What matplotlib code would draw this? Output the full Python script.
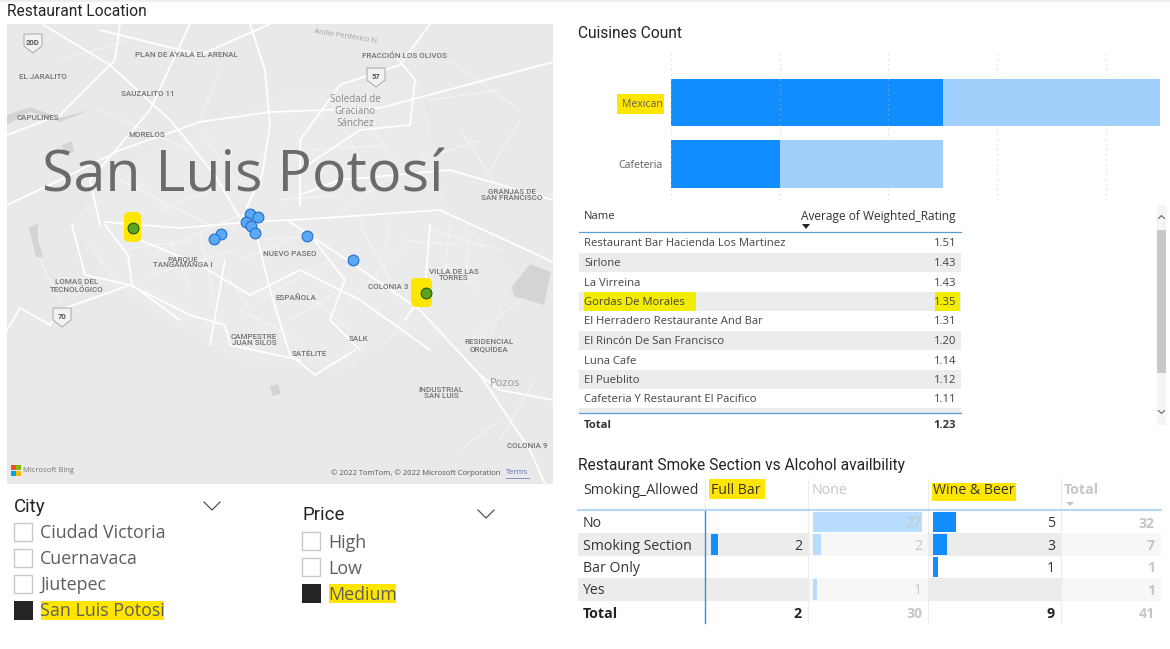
import matplotlib
matplotlib.use('Agg')
import matplotlib.pyplot as plt
from matplotlib.patches import Rectangle, Polygon, FancyBboxPatch

W, H = 1170, 649

# restaurant markers in picture pixels
blue_x = [250, 257.5, 246, 250.7, 254.6, 220.7, 214, 307, 352.5]
blue_y = [214, 217, 222, 226, 233, 234, 239, 236, 260]
green_x = [132.5, 426]
green_y = [228, 293]

cuisines = ['Mexican', 'Cafeteria']
cuisine_selected = [5, 2]
cuisine_other = [4, 3]

rest_names = ['Restaurant Bar Hacienda Los Martinez', 'Sirlone', 'La Virreina', 'Gordas De Morales',
              'El Herradero Restaurante And Bar', 'El Rincón De San Francisco', 'Luna Cafe',
              'El Pueblito', 'Cafeteria Y Restaurant El Pacifico']
rest_ratings = ['1.51', '1.43', '1.43', '1.35', '1.31', '1.20', '1.14', '1.12', '1.11']
rest_total = '1.23'

smoke_rows = ['No', 'Smoking Section', 'Bar Only', 'Yes']
full_bar = [None, 2, None, None]
no_alcohol = [27, 2, None, 1]
wine_beer = [5, 3, 1, None]
row_totals = [32, 7, 1, 1]
col_totals = [2, 30, 9, 41]

cities = ['Ciudad Victoria', 'Cuernavaca', 'Jiutepec', 'San Luis Potosi']
prices = ['High', 'Low', 'Medium']

map_labels = [
    ('PLAN DE AYALA EL ARENAL', 186, 54), ('FRACCIÓN LOS OLIVOS', 404, 54), ('EL JARALITO', 43, 76),
    ('SAUZALITO 11', 148, 93), ('CAPULINES', 38, 117), ('MORELOS', 147, 134),
    ('GRANJAS DE\nSAN FRANCISCO', 512, 194), ('PARQUE\nTANGAMANGA I', 183, 261), ('NUEVO PASEO', 290, 253),
    ('VILLA DE LAS\nTORRES', 454, 274), ('COLONIA 3', 388, 286), ('LOMAS DEL\nTECNOLÓGICO', 77, 285),
    ('ESPAÑOLA', 296, 297), ('CAMPESTRE\nJUAN SILOS', 254, 339), ('SALK', 358, 338), ('SATÉLITE', 309, 353),
    ('RESIDENCIAL\nORQUÍDEA', 489, 345), ('INDUSTRIAL\nSAN LUIS', 441, 392), ('COLONIA 9', 527, 445),
]
map_roads = [
    [(7, 205), (60, 180), (120, 150), (200, 122), (270, 112), (380, 108), (553, 62)],
    [(105, 222), (180, 228), (250, 222), (310, 219), (440, 210), (553, 262)],
    [(290, 222), (350, 262), (420, 310), (480, 375), (530, 450), (545, 484)],
    [(42, 24), (110, 65), (170, 120), (215, 175), (240, 218)],
    [(255, 228), (270, 290), (290, 355), (315, 375), (355, 350)],
    [(140, 240), (200, 265), (250, 295), (300, 270), (360, 300), (430, 350)],
    [(72, 225), (85, 275), (130, 285), (190, 315), (225, 325), (230, 345), (300, 360)],
    [(105, 225), (128, 255), (132, 285), (180, 320)],
    [(7, 330), (20, 308), (50, 325), (60, 310), (130, 285)],
    [(300, 205), (300, 140), (340, 85), (400, 65), (430, 24)],
    [(300, 170), (360, 130), (410, 125), (415, 80), (395, 55)],
    [(250, 24), (265, 70), (270, 125), (262, 175), (240, 222)],
    [(100, 30), (200, 55), (270, 24)],
    [(225, 260), (210, 345)],
    [(190, 24), (150, 110), (90, 180), (100, 225)],
    [(430, 225), (425, 290), (405, 320)],
    [(310, 235), (345, 280), (330, 320), (360, 350)],
    [(553, 200), (450, 170), (340, 180), (300, 195)],
    [(480, 375), (500, 390), (553, 400)],
    [(120, 24), (115, 60), (60, 115), (7, 135)],
]
map_streets = [
    [(150, 255), (240, 215)], [(160, 210), (235, 180)], [(330, 220), (400, 170)], [(350, 300), (410, 240)],
    [(120, 180), (210, 225)], [(240, 260), (290, 240)], [(260, 300), (330, 260)], [(200, 130), (250, 200)],
    [(330, 100), (360, 160)], [(430, 230), (500, 250)], [(440, 260), (480, 290)], [(470, 340), (520, 300)],
    [(290, 320), (340, 290)], [(100, 110), (190, 150)], [(220, 70), (200, 120)], [(430, 100), (500, 90)],
    [(460, 130), (500, 190)], [(500, 420), (460, 450)], [(240, 310), (300, 340)],
    [(120, 250), (190, 240)], [(150, 275), (235, 250)], [(90, 245), (120, 290)], [(170, 240), (190, 290)],
    [(200, 235), (215, 300)], [(265, 240), (320, 235)], [(280, 200), (340, 195)], [(310, 150), (390, 145)],
    [(350, 100), (395, 160)], [(390, 220), (385, 250)], [(450, 225), (445, 270)], [(470, 235), (465, 285)],
    [(400, 240), (460, 245)], [(360, 225), (390, 280)], [(300, 290), (350, 330)], [(230, 280), (270, 340)],
    [(130, 175), (170, 210)], [(60, 60), (130, 40)], [(450, 60), (520, 110)], [(520, 120), (490, 170)],
    [(40, 260), (60, 300)], [(500, 440), (535, 380)], [(420, 160), (480, 140)],
]
urban_area = [(72, 225), (110, 170), (200, 130), (290, 90), (420, 80), (445, 200), (515, 275), (490, 345),
              (400, 335), (340, 372), (240, 362), (130, 300)]
map_patches = [
    [(512, 287), (530, 264), (551, 272), (544, 305), (514, 296)],
    [(29, 228), (38, 223), (38, 240), (43, 257), (36, 257)],
    [(62, 145), (72, 141), (74, 152), (64, 155)],
    [(270, 386), (278, 384), (281, 394), (272, 396)],
    [(7, 115), (30, 107), (60, 118), (90, 110), (60, 122), (30, 112), (7, 125)],
]
shields = [('20D', 33, 43), ('57', 376, 77), ('70', 62, 317)]

TITLE_FONT = ['Roboto', 'DejaVu Sans']
BODY_FONT = ['Open Sans', 'DejaVu Sans']
YELLOW = '#ffe600'
BLUE = '#118dff'
LIGHT_BLUE = '#a2d0fd'
FADED = '#c6c6c6'
TITLE_SIZE = 11.2
TABLE_SIZE = 8.1
MATRIX_SIZE = 10.2

fig = plt.figure(figsize=(W / 100, H / 100), dpi=100)
ax = fig.add_axes([0, 0, 1, 1], zorder=1)
ax.set_xlim(0, W)
ax.set_ylim(H, 0)
ax.axis('off')


def box(x0, y0, x1, y1, color, zorder=1, **kw):
    ax.add_patch(Rectangle((x0, y0), x1 - x0, y1 - y0, facecolor=color, edgecolor='none', zorder=zorder, **kw))


def label(x, y, s, size=8, color='#333333', ha='left', font=BODY_FONT, zorder=6, **kw):
    ax.text(x, y + 1.5, s, fontsize=size, color=color, ha=ha, va='center', family=font, zorder=zorder, **kw)


def chevron(x, y, up=False, color='#666666', size=8, lw=0.9):
    dy = -size / 2 if up else size / 2
    ax.plot([x - size, x, x + size], [y - dy, y + dy, y - dy], color=color, lw=lw, zorder=6)


def blob(x0, y0, x1, y1):
    ax.add_patch(FancyBboxPatch((x0 + 3, y0 + 3), x1 - x0 - 6, y1 - y0 - 6, boxstyle='round,pad=3,rounding_size=5',
                                facecolor=YELLOW, edgecolor='none', zorder=4))


def draw_map():
    box(7, 24, 553, 484, '#e9e9e9', zorder=0)
    clip = Rectangle((7, 24), 546, 460, transform=ax.transData)
    ax.add_patch(Polygon(urban_area, facecolor='#ebebeb', edgecolor='none', zorder=0.5))
    for pts in map_patches:
        ax.add_patch(Polygon(pts, facecolor='#d4d4d4', edgecolor='none', zorder=1))
    for road in map_streets:
        ax.plot(*zip(*road), color='#f6f6f6', lw=0.7, zorder=1, clip_path=clip)
    for road in map_roads:
        ax.plot(*zip(*road), color='white', lw=1.3, zorder=2, clip_path=clip)
    for s, x, y in map_labels:
        ax.text(x, y + 1, s, fontsize=5.8, color='#707070', ha='center', va='center', family=TITLE_FONT,
                fontweight='medium', linespacing=1.05, zorder=3)
    label(345, 35, 'Anillo Periférico N', size=5.5, color='#a0a0a0', rotation=-9, ha='center', zorder=3)
    label(355, 110, 'Soledad de\nGraciano\nSánchez', size=7, color='#8a8a8a', ha='center', zorder=3, linespacing=1.1)
    label(505, 382, 'Pozos', size=8, color='#9a9a9a', ha='center', zorder=3)
    for s, x, y in shields:
        ax.add_patch(Polygon([(x - 9, y - 9), (x + 9, y - 9), (x + 9, y + 3), (x, y + 10), (x - 9, y + 3)],
                             facecolor='#f2f2f2', edgecolor='#a8a8a8', lw=0.7, zorder=3))
        label(x, y - 2, s, size=5.5, color='#555555', ha='center', font=TITLE_FONT, fontweight='bold')
    label(242.5, 176, 'San Luis Potosí', size=41.3, color='#6b6b6b', ha='center', zorder=4)
    blob(124, 212, 141, 242)
    blob(411, 278, 432, 307)
    ax.scatter(blue_x, blue_y, s=60, color='#5ba8f5', edgecolor='#1f6fd0', linewidth=0.8, zorder=5)
    ax.scatter(green_x, green_y, s=60, color='#5aa51c', edgecolor='#1d5a20', linewidth=0.8, zorder=5)
    for c, x, y in [('#f25022', 11, 465), ('#7fba00', 16, 465), ('#00a4ef', 11, 470.5), ('#ffb900', 16, 470.5)]:
        box(x, y, x + 4.7, y + 5.2, c, zorder=4)
    label(23, 469.5, 'Microsoft Bing', size=5.5, color='#777777', zorder=4)
    label(500, 471.5, '© 2022 TomTom, © 2022 Microsoft Corporation', size=5.5, color='#555555', ha='right', zorder=4)
    label(506, 471.5, 'Terms', size=5.5, color='#5a6fb5', zorder=4)
    ax.plot([506, 529], [478, 478], color='#5a6fb5', lw=0.5, zorder=4)


def draw_cuisines():
    label(578, 32, 'Cuisines Count', size=TITLE_SIZE, color='#252423', font=TITLE_FONT)
    box(617, 94, 664, 114, YELLOW, zorder=0)
    bar_ax = fig.add_axes([671 / W, 1 - 200 / H, (1160 - 671) / W, (200 - 53) / H], zorder=2)
    bar_ax.patch.set_alpha(0)
    y = [0, 1]
    bar_ax.barh(y, cuisine_selected, height=0.77, color=BLUE, zorder=2)
    bar_ax.barh(y, cuisine_other, left=cuisine_selected, height=0.77, color=LIGHT_BLUE, zorder=2)
    bar_ax.set_xlim(0, 9)
    bar_ax.set_ylim(1.585, -0.805)
    bar_ax.set_xticks([0, 2, 4, 6, 8])
    bar_ax.set_yticks(y)
    bar_ax.set_yticklabels(cuisines, fontsize=7.6, color='#605e5c', family=BODY_FONT)
    bar_ax.tick_params(length=0, labelbottom=False, pad=6)
    bar_ax.set_axisbelow(False)
    bar_ax.grid(axis='x', color='#c0c0c0', linestyle=(0, (1, 3)), lw=0.9, alpha=0.6)
    for side in bar_ax.spines.values():
        side.set_visible(False)


def draw_table():
    label(584, 215, 'Name', size=TABLE_SIZE)
    label(956, 215, 'Average of Weighted_Rating', size=8.6, ha='right')
    ax.add_patch(Polygon([(802, 224), (810, 224), (806, 229)], facecolor='#222222', zorder=6))
    ax.plot([579, 961], [232, 232], color='#5b9bd8', lw=0.9, zorder=5)
    for i, (name, rating) in enumerate(zip(rest_names, rest_ratings)):
        yc = 243 + 19.5 * i
        if i % 2 == 1:
            box(579, yc - 9.5, 961, yc + 9.5, '#ececec')
        if name == 'Gordas De Morales':
            box(584, yc - 9.5, 696, yc + 9.5, '#f2ec00', zorder=2)
            box(935, yc - 9.5, 960, yc + 9.5, '#f2ec00', zorder=2)
        label(584, yc - 0.5, name, size=TABLE_SIZE, color='#444444')
        label(956, yc - 0.5, rating, size=TABLE_SIZE, color='#444444', ha='right')
    box(579, 408, 961, 413, '#ececec')
    ax.plot([579, 961], [413, 413], color='#5b9bd8', lw=0.9, zorder=5)
    label(584, 424, 'Total', size=TABLE_SIZE, fontweight='bold')
    label(956, 424, rest_total, size=TABLE_SIZE, ha='right', fontweight='bold')
    box(1157, 205, 1166, 425, '#f5f5f5')
    box(1157, 230, 1166, 373, '#c8c8c8', zorder=2)
    chevron(1161.5, 217, up=True, color='#555555', size=3, lw=0.7)
    chevron(1161.5, 412, color='#555555', size=3, lw=0.7)


def draw_matrix():
    label(578, 464, 'Restaurant Smoke Section vs Alcohol availbility', size=TITLE_SIZE, color='#252423', font=TITLE_FONT)
    box(709, 479, 765, 499, YELLOW)
    box(932, 483, 1016, 501, YELLOW)
    label(583, 489, 'Smoking_Allowed', size=MATRIX_SIZE)
    label(711, 489, 'Full Bar', size=MATRIX_SIZE)
    label(812, 489, 'None', size=MATRIX_SIZE, color=FADED)
    label(933, 489, 'Wine & Beer', size=MATRIX_SIZE)
    label(1064, 489, 'Total', size=MATRIX_SIZE, color=FADED, fontweight='bold')
    ax.add_patch(Polygon([(1066, 502), (1074, 502), (1070, 506)], facecolor=FADED, zorder=6))
    ax.plot([578, 1161], [510, 510], color='#b5d8f5', lw=1.5, zorder=5)

    # column spans, value anchor and length of one unit of the data bars
    cols = [(full_bar, 705, 808, 711, 3.3, False), (no_alcohol, 808, 928, 813, 4.05, True),
            (wine_beer, 928, 1061, 933, 4.5, False), (row_totals, 1061, 1161, None, 0, True)]
    tops = [511, 533, 556, 578, 601, 623]
    for i, name in enumerate(smoke_rows):
        y0, y1 = tops[i], tops[i + 1]
        yc = (y0 + y1) / 2
        if i % 2 == 1:
            box(578, y0, 928, y1, '#ececec')
            box(808, y0, 928, y1, '#f7f7f7', zorder=1.5)
            box(928, y0, 1061, y1, '#ececec')
            box(1061, y0, 1161, y1, '#f7f7f7')
        label(583, yc, name, size=MATRIX_SIZE)
        for vals, x0, x1, bar_x, unit, faded in cols:
            v = vals[i]
            if v is None:
                continue
            if unit:
                ax.barh(yc, v * unit, left=bar_x, height=y1 - y0 - 2,
                        color='#b8dcfd' if faded else BLUE, zorder=3)
            label(x1 - 6, yc, str(v), size=MATRIX_SIZE, color=FADED if faded else '#333333', ha='right',
                  fontweight='bold' if vals is row_totals else 'normal')
    label(583, 612, 'Total', size=MATRIX_SIZE, color='#222222', fontweight='bold')
    for (vals, x0, x1, bar_x, unit, faded), total in zip(cols, col_totals):
        label(x1 - 6, 612, str(total), size=MATRIX_SIZE, color=FADED if faded else '#222222', ha='right', fontweight='bold')
    for x in [808, 928, 1061]:
        ax.plot([x, x], [479, 623], color='#ededed', lw=0.8, zorder=2)
    ax.plot([705, 705], [511, 623], color='#2f8fe8', lw=1, zorder=5)
    ax.plot([705, 705], [479, 510], color='#ededed', lw=0.8, zorder=2)


def draw_slicer(title, items, selected, x, title_y, first_y, step, chevron_x, mark_width):
    label(x, title_y - 0.5, title, size=13.5, color='#252423', font=TITLE_FONT)
    chevron(chevron_x, title_y, color='#555555', size=8)
    for i, item in enumerate(items):
        y = first_y + step * i
        if item == selected:
            box(x + 27, y - 9.5, x + 27 + mark_width, y + 10, YELLOW, zorder=1)
            box(x, y - 9, x + 19, y + 10, '#252423', zorder=2)
        else:
            ax.add_patch(Rectangle((x, y - 9), 18, 18, facecolor='white', edgecolor='#c8c8c8', lw=1, zorder=2))
        label(x + 26, y, item, size=12.9, color='#605e5c')


box(0, 0, W, 2, '#eeeeee')
label(7, 10, 'Restaurant Location', size=TITLE_SIZE, color='#252423', font=TITLE_FONT)
draw_map()
draw_cuisines()
draw_table()
draw_matrix()
draw_slicer('City', cities, 'San Luis Potosi', 14, 506, 532, 26, 212, 123)
draw_slicer('Price', prices, 'Medium', 302, 514, 541, 26, 486, 67)

fig.savefig('out.png', dpi=100)
